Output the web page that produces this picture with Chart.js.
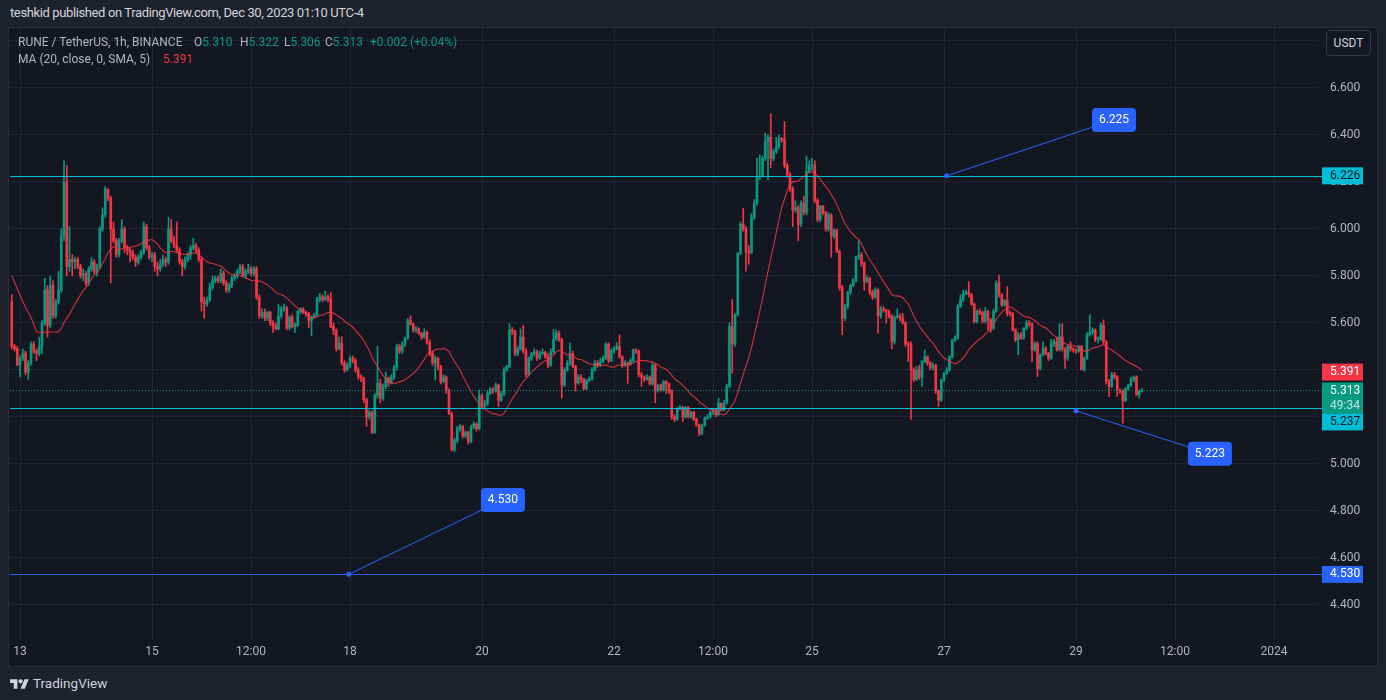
<!DOCTYPE html>
<html>
<head>
<meta charset="utf-8">
<title>RUNE / TetherUS, 1h</title>
<script src="https://cdn.jsdelivr.net/npm/chart.js@4.4.1/dist/chart.umd.min.js"></script>
<style>
  html, body { margin: 0; padding: 0; }
  body {
    width: 1386px; height: 700px; overflow: hidden; position: relative;
    background: #1e222d; font-family: Roboto, "Liberation Sans", sans-serif;
  }
  .abs { position: absolute; white-space: nowrap; line-height: 16px; }
  #published { left: 10px; top: 5px; font-size: 13px; color: #d1d4dc; letter-spacing: -0.38px; }
  #panel {
    position: absolute; left: 8px; top: 27px; width: 1368px; height: 638px;
    border: 1px solid #2a2e39; background: #131722;
  }
  #chartBox { position: absolute; left: 0; top: 0; width: 1368px; height: 638px; }
  .lg { font-size: 12px; color: #b2b5be; }
  .up { color: #089981; }
  .dn { color: #f23645; }
  #usdt {
    left: 1317px; top: 2px; width: 43px; height: 24px; line-height: 24px;
    border: 1px solid #363a45; border-radius: 4px; text-align: center;
    font-size: 12px; color: #d1d4dc; background: #131722;
  }
  #brand { left: 33px; top: 675px; font-size: 13.5px; color: #d1d4dc; }
  #logo { position: absolute; left: 10px; top: 677px; }
</style>
</head>
<body>
<div id="published" class="abs">teshkid published on TradingView.com, Dec 30, 2023 01:10 UTC-4</div>
<div id="panel">
  <div id="chartBox"><canvas id="chart"></canvas></div>
  <div class="abs lg" style="left:9px;top:6px">RUNE / TetherUS, 1h, BINANCE</div>
  <div class="abs lg" style="left:185px;top:6px">O<span class="up">5.310</span></div>
  <div class="abs lg" style="left:231px;top:6px">H<span class="up">5.322</span></div>
  <div class="abs lg" style="left:275px;top:6px">L<span class="up">5.306</span></div>
  <div class="abs lg" style="left:316px;top:6px">C<span class="up">5.313</span></div>
  <div class="abs lg up" style="left:361px;top:6px">+0.002 (+0.04%)</div>
  <div class="abs lg" style="left:9px;top:23px">MA (20, close, 0, SMA, 5)</div>
  <div class="abs lg dn" style="left:154px;top:23px">5.391</div>
  <div id="usdt" class="abs">USDT</div>
</div>
<svg id="logo" width="19" height="15" viewBox="0 0 36 28">
  <path fill="#d1d4dc" d="M14 22H7V11H0V4h14v18zM28 22h-8l7.5-18h8L28 22z"/>
  <circle fill="#d1d4dc" cx="20" cy="8" r="4"/>
</svg>
<div id="brand" class="abs">TradingView</div>

<script>
const family = "Roboto, 'Liberation Sans', sans-serif";
Chart.defaults.font.family = family;

// hours counted from Dec 13 00:00, first candle is Dec 12 21:00
const firstHour = -3;

const opens = [
  5.69,5.50,5.49,
  5.42,5.45,5.47,5.39,5.43,5.51,5.48,5.47,5.50,5.60,5.74,5.59,5.76,5.63,5.69,5.74,5.97,6.20,5.84,5.87,5.86,5.87,5.84,5.80,
  5.81,5.77,5.83,5.86,5.82,5.84,6.00,6.06,6.17,6.13,6.00,5.95,5.89,5.95,6.00,5.92,5.91,5.90,5.88,5.86,5.88,5.90,6.01,5.92,
  5.88,5.89,5.84,5.83,5.85,5.87,5.86,6.00,5.95,5.93,5.91,5.86,5.84,5.87,5.89,5.92,5.93,5.91,5.87,5.69,5.68,5.70,5.75,5.78,
  5.79,5.78,5.81,5.77,5.74,5.76,5.79,5.80,5.82,5.84,5.80,5.82,5.83,5.81,5.83,5.71,5.63,5.645,5.62,5.645,5.60,5.585,5.575,5.63,
  5.66,5.665,5.578,5.625,5.585,5.59,5.648,5.66,5.645,5.64,5.61,5.625,5.634,5.698,5.712,5.70,5.712,5.70,5.585,5.57,5.49,5.514,5.43,5.40,
  5.42,5.45,5.44,5.40,5.372,5.365,5.273,5.20,5.22,5.133,5.29,5.343,5.28,5.33,5.365,5.345,5.37,5.41,5.50,5.48,5.51,5.535,5.61,5.595,
  5.57,5.575,5.555,5.54,5.56,5.515,5.47,5.43,5.45,5.414,5.35,5.37,5.315,5.216,5.06,5.10,5.15,5.16,5.12,5.135,5.095,5.16,5.17,5.15,
  5.29,5.245,5.255,5.30,5.318,5.31,5.336,5.272,5.30,5.40,5.414,5.57,5.565,5.47,5.49,5.54,5.48,5.38,5.45,5.47,5.478,5.45,5.47,5.475,
  5.455,5.42,5.478,5.53,5.556,5.53,5.336,5.40,5.43,5.47,5.415,5.345,5.37,5.36,5.32,5.357,5.36,5.40,5.43,5.42,5.435,5.45,5.51,5.44,
  5.48,5.49,5.50,5.457,5.42,5.43,5.425,5.44,5.485,5.48,5.38,5.37,5.36,5.37,5.34,5.42,5.31,5.336,5.315,5.35,5.34,5.31,5.20,5.19,
  5.237,5.24,5.20,5.24,5.20,5.22,5.19,5.165,5.13,5.166,5.194,5.20,5.22,5.23,5.21,5.258,5.23,5.26,5.33,5.585,5.51,5.634,5.897,6.02,
  6.00,5.904,5.90,6.05,6.11,6.22,6.225,6.30,6.37,6.39,6.30,6.33,6.35,6.385,6.38,6.27,6.23,6.17,6.08,6.09,6.02,6.11,6.07,6.244,
  6.27,6.27,6.12,6.04,6.096,6.07,6.00,6.06,5.97,5.995,5.903,5.75,5.62,5.67,5.73,5.76,5.78,5.88,5.89,5.855,5.776,5.79,5.73,5.71,
  5.74,5.63,5.66,5.655,5.65,5.63,5.52,5.625,5.63,5.62,5.60,5.51,5.507,5.40,5.36,5.40,5.37,5.435,5.456,5.43,5.41,5.42,5.31,5.272,
  5.358,5.386,5.40,5.457,5.528,5.535,5.67,5.70,5.725,5.73,5.72,5.68,5.605,5.65,5.645,5.607,5.65,5.613,5.578,5.65,5.77,5.72,5.677,5.697,
  5.641,5.64,5.57,5.528,5.55,5.535,5.578,5.60,5.595,5.485,5.513,5.407,5.464,5.492,5.47,5.45,5.513,5.52,5.485,5.542,5.49,5.45,5.50,5.49,
  5.485,5.48,5.50,5.40,5.45,5.55,5.56,5.57,5.53,5.53,5.59,5.52,5.35,5.33,5.38,5.37,5.315,5.31,5.27,5.32,5.335,5.36,5.37,5.295,
  5.31
];

const highs = [
  5.72,5.51,5.50,
  5.46,5.49,5.48,5.44,5.52,5.52,5.49,5.54,5.61,5.79,5.76,5.80,5.78,5.70,5.82,6.00,6.29,6.27,6.01,5.89,5.88,5.88,5.85,5.83,
  5.82,5.84,5.88,5.87,5.85,6.01,6.09,6.18,6.17,6.14,6.03,5.96,5.96,6.04,6.01,5.93,5.92,5.91,5.89,5.89,5.91,6.03,6.02,5.93,
  5.90,5.90,5.86,5.87,5.89,5.88,6.05,6.04,5.97,6.03,5.92,5.87,5.88,5.90,5.93,5.96,5.94,5.92,5.88,5.71,5.71,5.77,5.80,5.80,
  5.80,5.83,5.82,5.78,5.77,5.80,5.81,5.83,5.85,5.85,5.83,5.85,5.84,5.84,5.84,5.72,5.66,5.66,5.65,5.65,5.61,5.60,5.68,5.67,
  5.68,5.67,5.63,5.635,5.60,5.655,5.665,5.665,5.65,5.645,5.63,5.64,5.71,5.726,5.72,5.736,5.72,5.73,5.60,5.575,5.54,5.542,5.44,5.43,
  5.46,5.46,5.45,5.41,5.38,5.37,5.28,5.23,5.225,5.30,5.50,5.36,5.34,5.39,5.37,5.38,5.42,5.51,5.51,5.52,5.54,5.62,5.63,5.60,
  5.585,5.58,5.56,5.575,5.565,5.528,5.48,5.46,5.455,5.42,5.38,5.375,5.32,5.22,5.11,5.16,5.17,5.165,5.14,5.14,5.165,5.18,5.175,5.315,
  5.30,5.27,5.31,5.325,5.325,5.345,5.34,5.31,5.41,5.42,5.596,5.58,5.57,5.50,5.575,5.59,5.49,5.455,5.475,5.49,5.485,5.48,5.49,5.48,
  5.47,5.49,5.573,5.57,5.565,5.535,5.41,5.44,5.514,5.48,5.42,5.38,5.38,5.365,5.36,5.37,5.41,5.44,5.44,5.45,5.46,5.516,5.515,5.49,
  5.50,5.516,5.549,5.46,5.44,5.435,5.45,5.49,5.49,5.485,5.39,5.375,5.38,5.375,5.43,5.425,5.34,5.34,5.355,5.355,5.345,5.315,5.21,5.24,
  5.25,5.245,5.245,5.245,5.225,5.225,5.195,5.17,5.17,5.20,5.21,5.225,5.235,5.235,5.28,5.26,5.27,5.34,5.60,5.70,5.64,5.90,6.03,6.088,
  6.01,5.93,6.065,6.125,6.30,6.315,6.31,6.407,6.40,6.49,6.34,6.39,6.40,6.39,6.457,6.28,6.24,6.18,6.12,6.10,6.12,6.14,6.31,6.29,
  6.30,6.29,6.13,6.10,6.10,6.075,6.07,6.065,6.00,6.00,5.91,5.76,5.68,5.735,5.765,5.79,5.885,5.95,5.90,5.86,5.80,5.795,5.74,5.75,
  5.745,5.67,5.67,5.66,5.655,5.635,5.63,5.66,5.64,5.64,5.605,5.52,5.52,5.41,5.415,5.42,5.44,5.485,5.46,5.435,5.43,5.425,5.315,5.36,
  5.39,5.41,5.46,5.53,5.545,5.68,5.72,5.74,5.74,5.776,5.725,5.685,5.655,5.66,5.65,5.665,5.655,5.62,5.66,5.78,5.804,5.725,5.70,5.755,
  5.65,5.645,5.575,5.56,5.56,5.58,5.61,5.61,5.60,5.52,5.52,5.47,5.52,5.50,5.475,5.53,5.53,5.54,5.596,5.596,5.495,5.505,5.52,5.495,
  5.49,5.505,5.505,5.455,5.56,5.634,5.58,5.575,5.54,5.60,5.613,5.525,5.36,5.39,5.39,5.375,5.32,5.315,5.325,5.34,5.37,5.375,5.375,5.315,
  5.322
];

const lows = [
  5.49,5.48,5.42,
  5.37,5.44,5.38,5.36,5.42,5.47,5.44,5.46,5.47,5.59,5.54,5.58,5.62,5.62,5.68,5.73,5.95,5.80,5.82,5.80,5.83,5.83,5.79,5.78,
  5.76,5.76,5.82,5.81,5.80,5.83,5.99,6.05,6.12,5.77,5.94,5.88,5.88,5.94,5.90,5.89,5.86,5.87,5.84,5.85,5.87,5.89,5.91,5.87,
  5.86,5.82,5.80,5.82,5.84,5.84,5.85,5.94,5.92,5.90,5.85,5.80,5.83,5.86,5.87,5.91,5.90,5.86,5.65,5.62,5.67,5.69,5.74,5.77,
  5.77,5.77,5.76,5.73,5.73,5.75,5.78,5.79,5.81,5.80,5.79,5.81,5.80,5.80,5.70,5.62,5.62,5.61,5.61,5.59,5.56,5.57,5.57,5.62,
  5.65,5.57,5.57,5.58,5.56,5.585,5.64,5.64,5.63,5.58,5.545,5.62,5.63,5.69,5.69,5.695,5.69,5.58,5.55,5.48,5.485,5.42,5.39,5.395,
  5.41,5.43,5.39,5.36,5.35,5.26,5.16,5.19,5.13,5.13,5.28,5.26,5.27,5.32,5.33,5.34,5.36,5.40,5.47,5.47,5.50,5.53,5.59,5.56,
  5.56,5.55,5.53,5.535,5.51,5.46,5.42,5.358,5.40,5.34,5.345,5.30,5.21,5.055,5.053,5.09,5.14,5.11,5.11,5.085,5.09,5.15,5.14,5.145,
  5.235,5.24,5.25,5.295,5.30,5.305,5.244,5.265,5.29,5.395,5.41,5.55,5.46,5.46,5.485,5.47,5.37,5.375,5.44,5.46,5.44,5.445,5.465,5.45,
  5.41,5.415,5.47,5.525,5.52,5.28,5.33,5.395,5.42,5.41,5.31,5.34,5.345,5.315,5.315,5.35,5.355,5.395,5.41,5.415,5.43,5.445,5.43,5.435,
  5.47,5.485,5.45,5.41,5.415,5.343,5.42,5.435,5.47,5.37,5.33,5.35,5.355,5.335,5.335,5.26,5.305,5.31,5.31,5.30,5.30,5.19,5.18,5.185,
  5.23,5.18,5.195,5.195,5.195,5.185,5.16,5.12,5.125,5.16,5.19,5.195,5.21,5.20,5.205,5.225,5.225,5.255,5.325,5.386,5.50,5.63,5.89,5.99,
  5.82,5.85,5.895,6.04,6.10,6.21,6.22,6.29,6.21,6.26,6.29,6.32,6.34,6.37,6.26,6.22,6.16,6.01,6.07,5.95,6.01,6.06,6.06,6.24,
  6.25,6.11,6.03,6.03,6.06,5.99,5.99,5.88,5.96,5.90,5.74,5.55,5.61,5.66,5.72,5.755,5.775,5.87,5.84,5.74,5.77,5.72,5.70,5.705,
  5.556,5.62,5.645,5.60,5.62,5.49,5.51,5.62,5.61,5.595,5.50,5.436,5.19,5.35,5.355,5.36,5.33,5.43,5.42,5.40,5.40,5.30,5.244,5.265,
  5.35,5.38,5.395,5.45,5.52,5.53,5.665,5.69,5.72,5.71,5.675,5.60,5.60,5.635,5.60,5.60,5.57,5.56,5.57,5.645,5.71,5.67,5.67,5.63,
  5.63,5.565,5.52,5.465,5.53,5.53,5.57,5.585,5.435,5.48,5.372,5.40,5.46,5.465,5.44,5.445,5.50,5.48,5.48,5.48,5.407,5.44,5.48,5.475,
  5.47,5.475,5.40,5.395,5.445,5.545,5.55,5.52,5.515,5.525,5.51,5.34,5.287,5.325,5.36,5.287,5.30,5.173,5.265,5.315,5.33,5.35,5.29,5.28,
  5.306
];

const closes = [
  5.50,5.49,5.42,
  5.45,5.47,5.39,5.43,5.51,5.48,5.47,5.50,5.60,5.74,5.59,5.76,5.63,5.69,5.74,5.97,6.20,5.84,5.87,5.86,5.87,5.84,5.80,5.81,
  5.77,5.83,5.86,5.82,5.84,6.00,6.06,6.17,6.13,6.00,5.95,5.89,5.95,6.00,5.92,5.91,5.90,5.88,5.86,5.88,5.90,6.01,5.92,5.88,
  5.89,5.84,5.83,5.85,5.87,5.86,6.00,5.95,5.93,5.91,5.86,5.84,5.87,5.89,5.92,5.93,5.91,5.87,5.69,5.68,5.70,5.75,5.78,5.79,
  5.78,5.81,5.77,5.74,5.76,5.79,5.80,5.82,5.84,5.80,5.82,5.83,5.81,5.83,5.71,5.63,5.645,5.62,5.645,5.60,5.585,5.575,5.63,5.66,
  5.665,5.578,5.625,5.585,5.59,5.648,5.66,5.645,5.64,5.61,5.625,5.634,5.698,5.712,5.70,5.712,5.70,5.585,5.57,5.49,5.514,5.43,5.40,5.42,
  5.45,5.44,5.40,5.372,5.365,5.273,5.20,5.22,5.133,5.29,5.343,5.28,5.33,5.365,5.345,5.37,5.41,5.50,5.48,5.51,5.535,5.61,5.595,5.57,
  5.575,5.555,5.54,5.56,5.515,5.47,5.43,5.45,5.414,5.35,5.37,5.315,5.216,5.06,5.10,5.15,5.16,5.12,5.135,5.095,5.16,5.17,5.15,5.29,
  5.245,5.255,5.30,5.318,5.31,5.336,5.272,5.30,5.40,5.414,5.57,5.565,5.47,5.49,5.54,5.48,5.38,5.45,5.47,5.478,5.45,5.47,5.475,5.455,
  5.42,5.478,5.53,5.556,5.53,5.336,5.40,5.43,5.47,5.415,5.345,5.37,5.36,5.32,5.357,5.36,5.40,5.43,5.42,5.435,5.45,5.51,5.44,5.48,
  5.49,5.50,5.457,5.42,5.43,5.425,5.44,5.485,5.48,5.38,5.37,5.36,5.37,5.34,5.42,5.31,5.336,5.315,5.35,5.34,5.31,5.20,5.19,5.237,
  5.24,5.20,5.24,5.20,5.22,5.19,5.165,5.13,5.166,5.194,5.20,5.22,5.23,5.21,5.258,5.23,5.26,5.33,5.585,5.51,5.634,5.897,6.02,6.00,
  5.904,5.90,6.05,6.11,6.22,6.225,6.30,6.37,6.39,6.30,6.33,6.35,6.385,6.38,6.27,6.23,6.17,6.08,6.09,6.02,6.11,6.07,6.244,6.27,
  6.27,6.12,6.04,6.096,6.07,6.00,6.06,5.97,5.995,5.903,5.75,5.62,5.67,5.73,5.76,5.78,5.88,5.89,5.855,5.776,5.79,5.73,5.71,5.74,
  5.63,5.66,5.655,5.65,5.63,5.52,5.625,5.63,5.62,5.60,5.51,5.507,5.40,5.36,5.40,5.37,5.435,5.456,5.43,5.41,5.42,5.31,5.272,5.358,
  5.386,5.40,5.457,5.528,5.535,5.67,5.70,5.725,5.73,5.72,5.68,5.605,5.65,5.645,5.607,5.65,5.613,5.578,5.65,5.77,5.72,5.677,5.697,5.641,
  5.64,5.57,5.528,5.55,5.535,5.578,5.60,5.595,5.485,5.513,5.407,5.464,5.492,5.47,5.45,5.513,5.52,5.485,5.542,5.49,5.45,5.50,5.49,5.485,
  5.48,5.50,5.40,5.45,5.55,5.56,5.57,5.53,5.53,5.59,5.52,5.35,5.33,5.38,5.37,5.315,5.31,5.27,5.32,5.335,5.36,5.37,5.295,5.31,
  5.313
];

// closes before the first visible candle, only used to seed the 20 period SMA
const maWarmup = [6.04,5.97,6.00,5.98,5.90,5.88,5.92,6.10,6.08,5.55,5.62,5.70,5.62,5.70,5.65,5.68,5.72,5.70,5.70];
const maPeriod = 20;

const tickHours  = [0, 48, 84, 120, 168, 216, 252, 288, 336, 384, 420, 456];
const tickLabels = ['13', '15', '12:00', '18', '20', '22', '12:00', '25', '27', '29', '12:00', '2024'];
const priceTicks = [4.4, 4.6, 4.8, 5.0, 5.2, 5.4, 5.6, 5.8, 6.0, 6.2, 6.4, 6.6, 6.8];

const lastPrice = 5.313;
const maLast = 5.391;
const countdown = '49:34';

// horizontal lines and callouts, in (hour, price)
const levels = [
  { price: 6.226, color: '#00bcd4', text: '#131722' },
  { price: 5.237, color: '#00bcd4', text: '#131722' },
  { price: 4.530, color: '#2962ff', text: '#ffffff' }
];
const callouts = [
  { at: [337, 6.226], box: [397.8, 6.464], text: '6.225' },
  { at: [384, 5.226], box: [432.7, 5.043], text: '5.223' },
  { at: [119.6, 4.531], box: [175.6, 4.847], text: '4.530' }
];

[opens, highs, lows].forEach(a => {
  if (a.length !== closes.length) throw new Error('array length ' + a.length + ' vs ' + closes.length);
});

const UP = '#089981', DOWN = '#f23645';
const hours = closes.map((_, i) => firstHour + i);
const colors = closes.map((c, i) => c >= opens[i] ? UP : DOWN);

const allCloses = maWarmup.concat(closes);
const ma = closes.map((_, i) => {
  const end = i + maWarmup.length + 1;
  const win = allCloses.slice(end - maPeriod, end);
  return win.reduce((a, b) => a + b, 0) / maPeriod;
});

function roundRect(ctx, x, y, w, h, r) {
  ctx.beginPath();
  ctx.moveTo(x + r, y);
  ctx.arcTo(x + w, y, x + w, y + h, r);
  ctx.arcTo(x + w, y + h, x, y + h, r);
  ctx.arcTo(x, y + h, x, y, r);
  ctx.arcTo(x, y, x + w, y, r);
  ctx.closePath();
}

function priceTag(ctx, left, top, h, bg, rows) {
  ctx.fillStyle = bg;
  ctx.fillRect(left, top, 41, h);
  ctx.font = '12px ' + family;
  ctx.textAlign = 'left';
  ctx.textBaseline = 'middle';
  rows.forEach((r, k) => {
    ctx.fillStyle = r[1];
    ctx.fillText(r[0], left + 8, top + 8.5 + k * 15);
  });
}

const overlay = {
  id: 'overlay',
  afterDatasetsDraw(chart) {
    const { ctx, chartArea: area, scales: { x, y } } = chart;
    ctx.save();
    ctx.lineWidth = 1;

    levels.forEach(l => {
      const py = Math.round(y.getPixelForValue(l.price)) + 0.5;
      ctx.strokeStyle = l.color;
      ctx.beginPath();
      ctx.moveTo(area.left, py);
      ctx.lineTo(area.right + 4, py);
      ctx.stroke();
    });

    // last price, dotted
    const lp = Math.round(y.getPixelForValue(lastPrice)) + 0.5;
    ctx.strokeStyle = UP;
    ctx.setLineDash([1, 2]);
    ctx.beginPath();
    ctx.moveTo(area.left, lp);
    ctx.lineTo(area.right + 4, lp);
    ctx.stroke();
    ctx.setLineDash([]);

    callouts.forEach(c => {
      const ax = x.getPixelForValue(c.at[0]), ay = y.getPixelForValue(c.at[1]);
      const bx = x.getPixelForValue(c.box[0]), by = y.getPixelForValue(c.box[1]);
      ctx.strokeStyle = '#2962ff';
      ctx.beginPath();
      ctx.moveTo(ax, ay);
      ctx.lineTo(bx, by);
      ctx.stroke();
      ctx.fillStyle = '#2962ff';
      ctx.beginPath();
      ctx.arc(ax, ay, 2.5, 0, Math.PI * 2);
      ctx.fill();
      roundRect(ctx, bx - 22, by - 12, 44, 24, 4);
      ctx.fill();
      ctx.fillStyle = '#ffffff';
      ctx.font = '12px ' + family;
      ctx.textAlign = 'center';
      ctx.textBaseline = 'middle';
      ctx.fillText(c.text, bx, by + 0.5);
    });
    ctx.restore();
  },
  afterDraw(chart) {
    const { ctx, chartArea: area, scales: { y } } = chart;
    const left = area.right + 4;
    ctx.save();
    const l0 = levels[0], l1 = levels[1], l2 = levels[2];
    priceTag(ctx, left, y.getPixelForValue(l0.price) - 8.5, 17, l0.color, [[l0.price.toFixed(3), l0.text]]);
    priceTag(ctx, left, y.getPixelForValue(maLast) - 8.5, 17, DOWN, [[maLast.toFixed(3), '#ffffff']]);
    const curTop = y.getPixelForValue(lastPrice) - 8;
    priceTag(ctx, left, curTop, 31, UP, [[lastPrice.toFixed(3), '#ffffff'], [countdown, 'rgba(255,255,255,0.75)']]);
    const t1 = Math.max(y.getPixelForValue(l1.price) - 8.5, curTop + 31);
    priceTag(ctx, left, t1, 17, l1.color, [[l1.price.toFixed(3), l1.text]]);
    priceTag(ctx, left, y.getPixelForValue(l2.price) - 8.5, 17, l2.color, [[l2.price.toFixed(3), l2.text]]);
    ctx.restore();
  }
};

const gridColor = '#222632';

new Chart(document.getElementById('chart'), {
  type: 'bar',
  data: {
    datasets: [
      {
        type: 'line',
        label: 'MA',
        data: hours.map((h, i) => ({ x: h, y: ma[i] })),
        borderColor: 'rgba(242,54,69,0.8)',
        borderWidth: 1.2,
        pointRadius: 0,
        tension: 0,
        order: 0
      },
      {
        label: 'bodies',
        data: hours.map((h, i) => ({ x: h, y: [opens[i], closes[i]] })),
        backgroundColor: colors,
        barThickness: 2,
        minBarLength: 1,
        grouped: false,
        order: 1
      },
      {
        label: 'wicks',
        data: hours.map((h, i) => ({ x: h, y: [lows[i], highs[i]] })),
        backgroundColor: colors,
        barThickness: 1,
        grouped: false,
        order: 2
      }
    ]
  },
  options: {
    responsive: true,
    maintainAspectRatio: false,
    animation: false,
    layout: { padding: { left: 1, top: 0, right: 0, bottom: 0 } },
    plugins: { legend: { display: false }, tooltip: { enabled: false } },
    scales: {
      x: {
        type: 'linear',
        min: -3.64,
        max: 472,
        offset: false,
        grid: { color: gridColor, drawTicks: false, offset: false },
        border: { display: false },
        afterBuildTicks: s => { s.ticks = tickHours.map(v => ({ value: v })); },
        afterFit: s => { s.height = 26; s.paddingLeft = 0; s.paddingRight = 0; },
        ticks: {
          autoSkip: false,
          maxRotation: 0,
          color: '#b2b5be',
          font: { size: 12 },
          padding: 5,
          callback: (v, i) => tickLabels[i]
        }
      },
      y: {
        position: 'right',
        min: 4.251,
        max: 6.855,
        grid: { color: gridColor, drawTicks: false },
        border: { display: false },
        afterBuildTicks: s => { s.ticks = priceTicks.map(v => ({ value: v })); },
        afterFit: s => { s.width = 59; s.paddingTop = 0; s.paddingBottom = 0; },
        ticks: {
          color: '#b2b5be',
          font: { size: 12 },
          padding: 12,
          callback: v => v.toFixed(3)
        }
      }
    }
  },
  plugins: [overlay]
});
</script>
</body>
</html>
